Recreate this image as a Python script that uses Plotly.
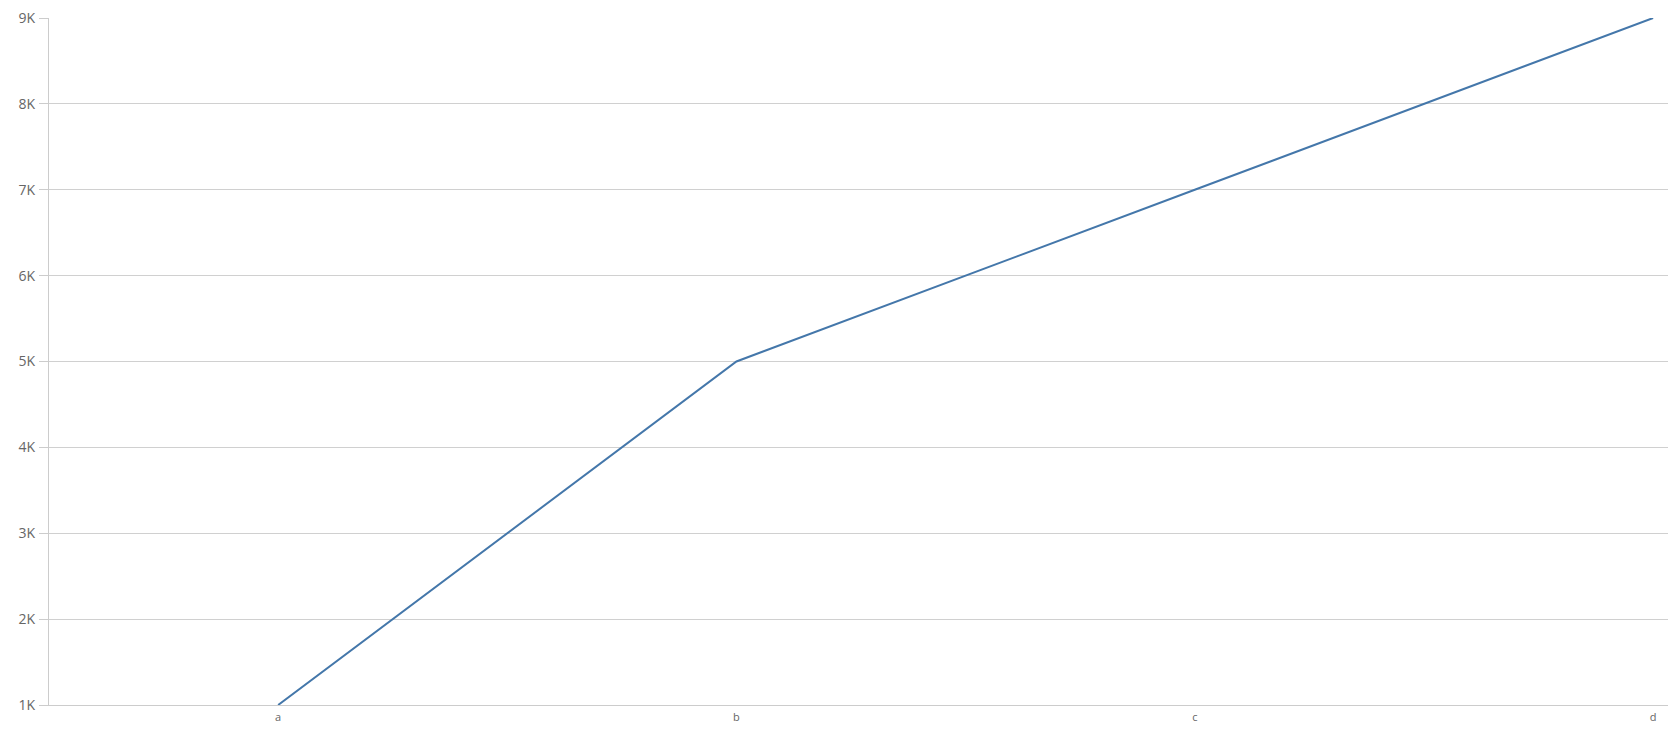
import plotly.graph_objects as go

# data
categories = ["a", "b", "c", "d"]
values = [1000, 5000, 7000, 9000]
y_ticks = [1000, 2000, 3000, 4000, 5000, 6000, 7000, 8000, 9000]
y_tick_labels = ["1K", "2K", "3K", "4K", "5K", "6K", "7K", "8K", "9K"]

fig = go.Figure()
fig.add_trace(go.Scatter(
    x=categories,
    y=values,
    mode="lines",
    line=dict(color="#4477aa", width=2),
    showlegend=False,
))

# page body has an 8px margin, so the figure is shifted by that much
fig.update_layout(
    width=1668, height=724,
    margin=dict(l=41, r=0, t=7, b=27),
    plot_bgcolor="white", paper_bgcolor="white",
    font=dict(family="Open Sans", color="#666666"),
)

fig.update_xaxes(
    type="category",
    range=[-0.5, 3.05],
    showgrid=False,
    showline=True, linecolor="#cccccc", linewidth=1,
    ticks="", tickfont=dict(size=11, color="#666666"),
    ticklabelstandoff=2,
)

fig.update_yaxes(
    range=[1000, 9000],
    tickvals=y_ticks, ticktext=y_tick_labels,
    showgrid=True, gridcolor="#d0d0d0", gridwidth=1,
    showline=True, linecolor="#cccccc", linewidth=1,
    ticks="outside", ticklen=9, tickcolor="#cccccc",
    tickfont=dict(size=14, color="#666666"),
    ticklabelstandoff=1,
    ticklabeloverflow="allow",
    zeroline=False,
)

fig.write_html("out.html")
